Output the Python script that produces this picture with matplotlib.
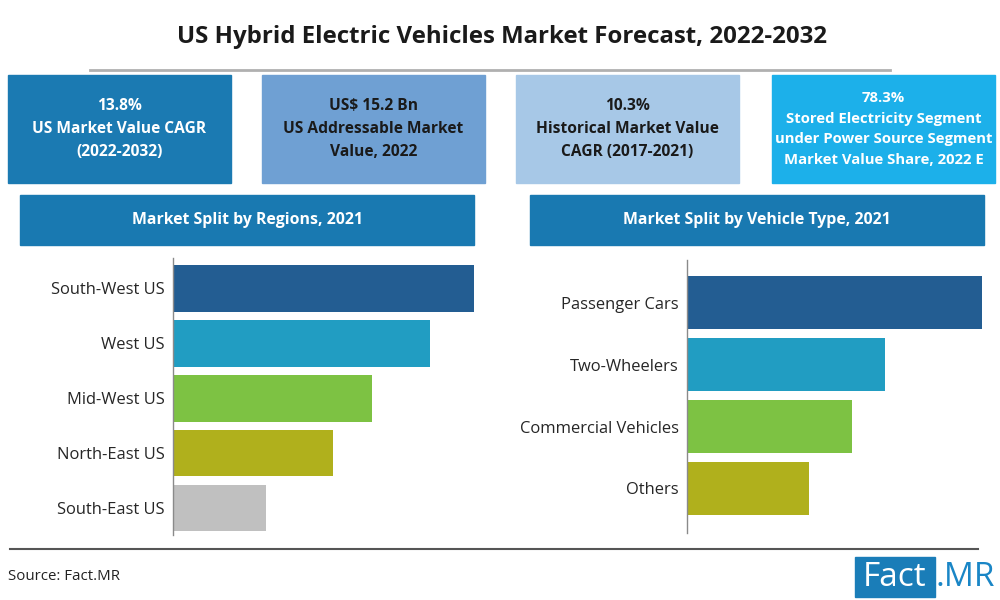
import matplotlib.pyplot as plt
from matplotlib.patches import Rectangle

plt.rcParams['font.family'] = ['Open Sans', 'DejaVu Sans']

# Data
regions = ['South-West US', 'West US', 'Mid-West US', 'North-East US', 'South-East US']
region_values = [301, 257, 199, 160, 93]
region_colors = ['#235d92', '#219dc2', '#7dc243', '#b0b01c', '#c0c0c0']

vehicle_types = ['Passenger Cars', 'Two-Wheelers', 'Commercial Vehicles', 'Others']
vehicle_values = [295, 198, 165, 122]
vehicle_colors = ['#235d92', '#219dc2', '#7dc243', '#b0b01c']

kpi_texts = ['13.8%\nUS Market Value CAGR\n(2022-2032)',
             'US$ 15.2 Bn\nUS Addressable Market\nValue, 2022',
             '10.3%\nHistorical Market Value\nCAGR (2017-2021)',
             '78.3%\nStored Electricity Segment\nunder Power Source Segment\nMarket Value Share, 2022 E']
kpi_colors = ['#1b7ab2', '#6fa0d3', '#a7c8e7', '#1cb0ea']
kpi_text_colors = ['white', '#1a1a1a', '#1a1a1a', 'white']
kpi_sizes = [11.2, 11.2, 11.2, 10.7]

title = 'US Hybrid Electric Vehicles Market Forecast, 2022-2032'
left_header = 'Market Split by Regions, 2021'
right_header = 'Market Split by Vehicle Type, 2021'

W, H = 1000, 600
fig = plt.figure(figsize=(10, 6), dpi=100)

# background layer in pixel coordinates
bg = fig.add_axes([0, 0, 1, 1])
bg.set_xlim(0, W)
bg.set_ylim(H, 0)
bg.axis('off')

bg.text(502, 37, title, ha='center', va='center', fontsize=17.3, fontweight='bold', color='#1a1a1a')
bg.plot([90, 890], [70, 70], color='#b0b0b0', lw=2)

# KPI boxes
box_x = [8, 262, 516, 772]
for x, txt, c, tc, fs in zip(box_x, kpi_texts, kpi_colors, kpi_text_colors, kpi_sizes):
    bg.add_patch(Rectangle((x, 75), 223, 108, color=c))
    bg.text(x + 111.5, 129, txt, ha='center', va='center', fontsize=fs,
            fontweight='bold', color=tc, linespacing=1.62)

# section headers
for x, txt in zip([20, 530], [left_header, right_header]):
    bg.add_patch(Rectangle((x, 195), 454, 50, color='#1979b1'))
    bg.text(x + 227, 220, txt, ha='center', va='center', fontsize=11.4,
            fontweight='bold', color='white')

# footer
bg.plot([10, 978], [549, 549], color='#555555', lw=1.5)
bg.text(8, 576, 'Source: Fact.MR', ha='left', va='center', fontsize=10.8, color='#222222')
bg.add_patch(Rectangle((855, 557), 80, 40, color='#1a7db8'))
bg.text(895, 577, 'Fact', ha='center', va='center', fontsize=24, color='white')
bg.text(936, 577, '.MR', ha='left', va='center', fontsize=24, color='#1a86c6')


def bar_axes(left, right, top, bottom):
    return fig.add_axes([left / W, 1 - bottom / H, (right - left) / W, (bottom - top) / H])


def style(ax):
    for s in ['top', 'right', 'bottom']:
        ax.spines[s].set_visible(False)
    ax.spines['left'].set_color('#8a8a8a')
    ax.spines['left'].set_linewidth(1)
    ax.set_xticks([])
    ax.tick_params(axis='y', length=0, pad=6, labelsize=11.9, labelcolor='#262626')
    ax.set_facecolor('none')


ax1 = bar_axes(173, 480, 258, 535)
ax1.barh(range(len(regions)), region_values, height=0.85, color=region_colors)
ax1.set_yticks(range(len(regions)))
ax1.set_yticklabels(regions)
ax1.set_xlim(0, 307)
ax1.set_ylim(4.49, -0.55)
style(ax1)

ax2 = bar_axes(687, 990, 260, 533)
ax2.barh(range(len(vehicle_types)), vehicle_values, height=0.85, color=vehicle_colors)
ax2.set_yticks(range(len(vehicle_types)))
ax2.set_yticklabels(vehicle_types)
ax2.set_xlim(0, 303)
ax2.set_ylim(3.72, -0.69)
style(ax2)

fig.savefig('out.png', dpi=100)
